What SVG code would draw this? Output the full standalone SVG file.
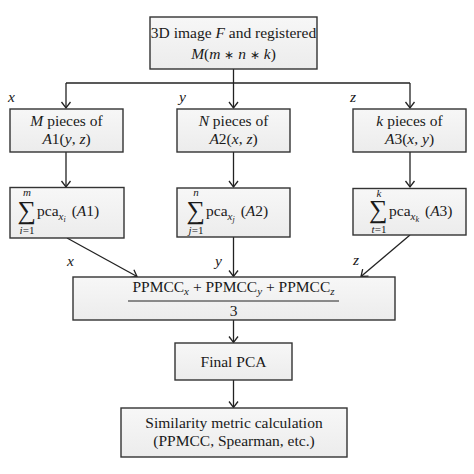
<svg xmlns="http://www.w3.org/2000/svg" width="474" height="474" viewBox="0 0 474 474">
<defs>
<marker id="arr" viewBox="-8 -6 10 12" markerWidth="10" markerHeight="12" refX="0" refY="0" orient="auto" markerUnits="userSpaceOnUse">
<path d="M-6,-4.5 L0,0 L-6,4.5" fill="none" stroke="#222" stroke-width="1.3"/>
</marker>
<linearGradient id="g" x1="0" y1="0" x2="0" y2="1">
<stop offset="0" stop-color="#f7f7f7"/>
<stop offset="1" stop-color="#ececec"/>
</linearGradient>
</defs>
<style>
.box{fill:url(#g);stroke:#333;stroke-width:1.4}
.t{font-family:"Liberation Serif","Times New Roman",serif;font-size:15.5px;fill:#1a1a1a}
.c{text-anchor:middle}
.i{font-style:italic}
.s{font-size:11px}
.ss{font-size:8px}
.sig{font-family:"Liberation Serif","DejaVu Serif",serif;font-size:26px;fill:#1a1a1a}
.ln{stroke:#222;stroke-width:1.3;fill:none}
.op{font-size:12px;font-style:normal}
</style>
<rect width="474" height="474" fill="#fff"/>

<g id="connectors">
<line class="ln" x1="233.5" y1="69" x2="233.5" y2="83"/>
<line class="ln" x1="66" y1="83" x2="410" y2="83"/>
<line class="ln" x1="66" y1="83" x2="66" y2="108" marker-end="url(#arr)"/>
<line class="ln" x1="233.5" y1="83" x2="233.5" y2="108" marker-end="url(#arr)"/>
<line class="ln" x1="410" y1="83" x2="410" y2="108" marker-end="url(#arr)"/>
<line class="ln" x1="66" y1="152" x2="66" y2="187" marker-end="url(#arr)"/>
<line class="ln" x1="233.5" y1="152" x2="233.5" y2="187" marker-end="url(#arr)"/>
<line class="ln" x1="410" y1="152" x2="410" y2="187" marker-end="url(#arr)"/>
<line class="ln" x1="67" y1="238" x2="137" y2="276.5" marker-end="url(#arr)"/>
<line class="ln" x1="233.5" y1="237" x2="233.5" y2="276.5" marker-end="url(#arr)"/>
<line class="ln" x1="410" y1="235" x2="361" y2="276.5" marker-end="url(#arr)"/>
<line class="ln" x1="233.5" y1="320" x2="233.5" y2="342.5" marker-end="url(#arr)"/>
<line class="ln" x1="233.5" y1="380" x2="233.5" y2="407.5" marker-end="url(#arr)"/>
<text class="t i" x="8" y="102">x</text>
<text class="t i" x="179" y="102">y</text>
<text class="t i" x="350" y="102">z</text>
<text class="t i" x="67" y="266">x</text>
<text class="t i" x="215" y="266">y</text>
<text class="t i" x="353" y="265">z</text>
</g>

<g id="top">
<rect class="box" x="150" y="17" width="167" height="52"/>
<text class="t c" x="233.5" y="38">3D image <tspan class="i">F</tspan> and registered</text>
<text class="t c i" x="233.5" y="59">M<tspan font-style="normal">(</tspan>m <tspan class="op">∗</tspan> n <tspan class="op">∗</tspan> k<tspan font-style="normal">)</tspan></text>
</g>

<g id="m-pieces">
<rect class="box" x="10" y="109" width="113" height="43"/>
<text class="t c" x="66.5" y="126"><tspan class="i">M</tspan> pieces of</text>
<text class="t c" x="66.5" y="144"><tspan class="i">A</tspan>1(<tspan class="i">y</tspan>, <tspan class="i">z</tspan>)</text>
</g>
<g id="n-pieces">
<rect class="box" x="177" y="109" width="113" height="43"/>
<text class="t c" x="233.5" y="126"><tspan class="i">N</tspan> pieces of</text>
<text class="t c" x="233.5" y="144"><tspan class="i">A</tspan>2(<tspan class="i">x</tspan>, <tspan class="i">z</tspan>)</text>
</g>
<g id="k-pieces">
<rect class="box" x="353" y="109" width="113" height="43"/>
<text class="t c" x="409.5" y="126"><tspan class="i">k</tspan> pieces of</text>
<text class="t c" x="409.5" y="144"><tspan class="i">A</tspan>3(<tspan class="i">x</tspan>, <tspan class="i">y</tspan>)</text>
</g>

<g id="sum1">
<rect class="box" x="10" y="187.5" width="114" height="50.5"/>
<text class="sig" x="17.5" y="219">∑</text>
<text class="t i s c" x="27" y="196">m</text>
<text class="t s c" x="27" y="234"><tspan class="i">i</tspan>=1</text>
<text class="t" x="37" y="216">pca<tspan class="i s" dy="4">x</tspan><tspan class="i ss" dy="2">i</tspan><tspan dy="-6" dx="6">(</tspan><tspan class="i">A</tspan>1)</text>
</g>
<g id="sum2">
<rect class="box" x="177" y="188" width="113" height="49"/>
<text class="sig" x="186.5" y="219">∑</text>
<text class="t i s c" x="196" y="196">n</text>
<text class="t s c" x="196" y="234"><tspan class="i">j</tspan>=1</text>
<text class="t" x="206" y="216">pca<tspan class="i s" dy="4">x</tspan><tspan class="i ss" dy="2">j</tspan><tspan dy="-6" dx="6">(</tspan><tspan class="i">A</tspan>2)</text>
</g>
<g id="sum3">
<rect class="box" x="353" y="188.5" width="113" height="46.5"/>
<text class="sig" x="369" y="218">∑</text>
<text class="t i s c" x="379" y="197">k</text>
<text class="t s c" x="379" y="233"><tspan class="i">t</tspan>=1</text>
<text class="t" x="389" y="216">pca<tspan class="i s" dy="4">x</tspan><tspan class="i ss" dy="2">k</tspan><tspan dy="-6" dx="6">(</tspan><tspan class="i">A</tspan>3)</text>
</g>

<g id="ppmcc">
<rect class="box" x="73" y="277" width="322" height="43"/>
<text class="t c" x="233.5" y="292">PPMCC<tspan class="i s" dy="3">x</tspan><tspan dy="-3"> + PPMCC</tspan><tspan class="i s" dy="3">y</tspan><tspan dy="-3"> + PPMCC</tspan><tspan class="i s" dy="3">z</tspan></text>
<line x1="128" y1="301" x2="339" y2="301" stroke="#222" stroke-width="1"/>
<text class="t c" x="233.5" y="316">3</text>
</g>

<g id="final-pca">
<rect class="box" x="175" y="343" width="117" height="37"/>
<text class="t c" x="233.5" y="367">Final PCA</text>
</g>

<g id="similarity">
<rect class="box" x="121" y="408" width="226" height="49"/>
<text class="t c" x="234" y="428">Similarity metric calculation</text>
<text class="t c" x="234" y="446">(PPMCC, Spearman, etc.)</text>
</g>
</svg>
